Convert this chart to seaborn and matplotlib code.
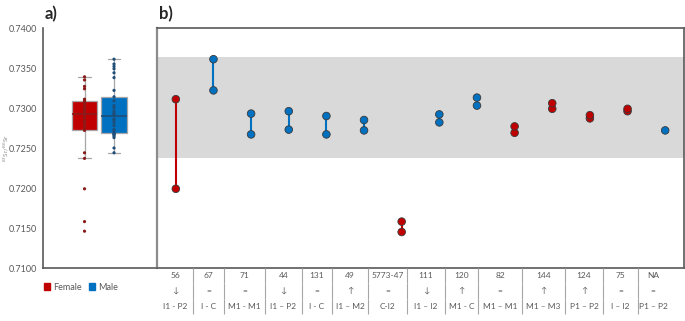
import numpy as np
import pandas as pd
import matplotlib.pyplot as plt
import seaborn as sb
from matplotlib.patches import Patch

# panel a - all individuals
female = [0.7146, 0.7158, 0.7199, 0.7237, 0.7244, 0.7272, 0.7273, 0.7277, 0.7281, 0.7284,
          0.7288, 0.7292, 0.7294, 0.7296, 0.7299, 0.7301, 0.7305, 0.7308, 0.7310, 0.7311,
          0.7324, 0.7327, 0.7335, 0.7339]
male = [0.7244, 0.7250, 0.7263, 0.7265, 0.7267, 0.7267, 0.7268, 0.7269, 0.7272, 0.7273,
        0.7278, 0.7282, 0.7285, 0.7286, 0.7290, 0.7292, 0.7293, 0.7296, 0.7300, 0.7303,
        0.7309, 0.7314, 0.7322, 0.7338, 0.7344, 0.7349, 0.7352, 0.7355, 0.7361]

# panel b - paired samples per individual
b_sex = ['Female', 'Male', 'Male', 'Male', 'Male', 'Male', 'Female',
         'Male', 'Male', 'Female', 'Female', 'Female', 'Female', 'Male']
b_low = [0.7199, 0.7322, 0.7267, 0.7273, 0.7267, 0.7272, 0.7145,
         0.7282, 0.7303, 0.7269, 0.7299, 0.7287, 0.7296, 0.7272]
b_high = [0.7311, 0.7361, 0.7293, 0.7296, 0.7290, 0.7285, 0.7158,
          0.7292, 0.7313, 0.7277, 0.7306, 0.7291, 0.7299, np.nan]
band = (0.7237, 0.7364)

# table under panel b
t_id = ['56', '67', '71', '44', '131', '49', '5773-47', '111', '120', '82', '144', '124', '75', 'NA']
t_arrow = ['↓', '=', '=', '↓', '=', '↑', '=', '↓', '↑', '=', '↑', '↑', '=', '=']
t_teeth = ['I1 - P2', 'I - C', 'M1 - M1', 'I1 – P2', 'I - C', 'I1 – M2', 'C-I2',
           'I1 – I2', 'M1 - C', 'M1 – M1', 'M1 – M3', 'P1 – P2', 'I – I2', 'P1 – P2']
col_w = [36, 31, 41, 37, 30, 36, 39, 38, 33, 44, 43, 38, 35, 30]

red = '#C00000'
blue = '#0070C0'
pal = {'Female': red, 'Male': blue}
dark = {'Female': '#8B1a1a', 'Male': '#1F4E79'}
grey = '#595959'

sb.set_style('white')
plt.rcParams['font.family'] = ['Lato', 'DejaVu Sans']

fig = plt.figure(figsize=(6.85, 3.21), dpi=100)
ax1 = fig.add_axes([43/685, 53/321, 114/685, 240/321])
ax2 = fig.add_axes([157/685, 53/321, 527/685, 240/321])
axt = fig.add_axes([157/685, 7/321, 511/685, 46/321])

###
df_a = pd.DataFrame({'sex': ['Female']*len(female) + ['Male']*len(male),
                     'val': female + male, 'grp': 'all'})
sb.boxplot(data=df_a, x='grp', y='val', hue='sex', palette=pal, saturation=1, width=0.8, gap=0.15,
           linecolor='#a6a6a6', linewidth=0.9, showfliers=False, legend=False, ax=ax1)
for cont, s in zip(ax1.containers, ['Female', 'Male']):
    for m in cont.medians:
        m.set_color(dark[s])
        m.set_linewidth(1.2)
sb.stripplot(data=df_a, x='grp', y='val', hue='sex', palette=dark, dodge=True, jitter=False,
             size=2.3, linewidth=0, legend=False, ax=ax1, zorder=3)
ax1.set_xlim(-0.763, 0.783)
ax1.set_ylim(0.71, 0.74)
ax1.set_yticks(np.arange(0.71, 0.74001, 0.005))
ax1.yaxis.set_major_formatter(plt.FormatStrFormatter('%.4f'))
ax1.tick_params(axis='y', length=0, labelsize=6.5, colors=grey, pad=4)
ax1.set_xticks([])
ax1.set_xlabel('')
ax1.set_ylabel(r'$^{87}$Sr/$^{86}$Sr', fontsize=4.5, color='#8c8c8c')
ax1.yaxis.set_label_coords(-32/114, 0.5)
ax1.spines['top'].set_visible(False)
ax1.spines['right'].set_visible(False)
for s in ['left', 'bottom']:
    ax1.spines[s].set_color(grey)
    ax1.spines[s].set_linewidth(1.2)

###
rows = []
for i in range(len(b_sex)):
    for v in [b_low[i], b_high[i]]:
        if not np.isnan(v):
            rows.append({'pos': i, 'val': v, 'sex': b_sex[i], 'pair': i})
df_b = pd.DataFrame(rows)

ax2.axhspan(band[0], band[1], color='#D9D9D9', lw=0, zorder=0)
sb.lineplot(data=df_b, x='pos', y='val', hue='sex', units='pair', estimator=None, sort=False,
            palette=pal, lw=1.5, legend=False, ax=ax2, zorder=2)
sb.scatterplot(data=df_b, x='pos', y='val', hue='sex', palette=pal, s=30, edgecolor='#3a3a3a',
               linewidth=0.6, legend=False, ax=ax2, zorder=3)
ax2.set_xlim(-0.5, len(b_sex) - 0.5)
ax2.set_ylim(0.71, 0.74)
ax2.set_xticks([])
ax2.set_yticks([])
ax2.set_xlabel('')
ax2.set_ylabel('')
for s in ['top', 'right', 'bottom']:
    ax2.spines[s].set_color(grey)
    ax2.spines[s].set_linewidth(1.2)
ax2.spines['left'].set_color('#8c8c8c')
ax2.spines['left'].set_linewidth(1.6)

###
axt.axis('off')
tab = axt.table(cellText=[t_id, t_arrow, t_teeth], colWidths=[w/sum(col_w) for w in col_w],
                cellLoc='center', bbox=[0, 0, 1, 1], edges='open')
tab.auto_set_font_size(False)
tab.set_fontsize(6)
for (r, c), cell in tab.get_celld().items():
    cell.visible_edges = 'R' if c < len(col_w) - 1 else ''
    cell.set_edgecolor('#a6a6a6')
    cell.set_linewidth(0.8)
    cell.get_text().set_color(grey)

fig.text(45/685, 1 - 14.5/321, 'a)', fontsize=12, fontweight='bold', ha='left', va='center')
fig.text(159/685, 1 - 14.5/321, 'b)', fontsize=12, fontweight='bold', ha='left', va='center')

fig.legend(handles=[Patch(color=red, label='Female'), Patch(color=blue, label='Male')],
           loc='center left', bbox_to_anchor=(44/685, 1 - 287/321), ncol=2, frameon=False,
           fontsize=6.5, handlelength=0.7, handleheight=0.7, handletextpad=0.3,
           columnspacing=0.8, labelcolor=grey, borderpad=0, borderaxespad=0)

plt.savefig('out.png', dpi=100)
